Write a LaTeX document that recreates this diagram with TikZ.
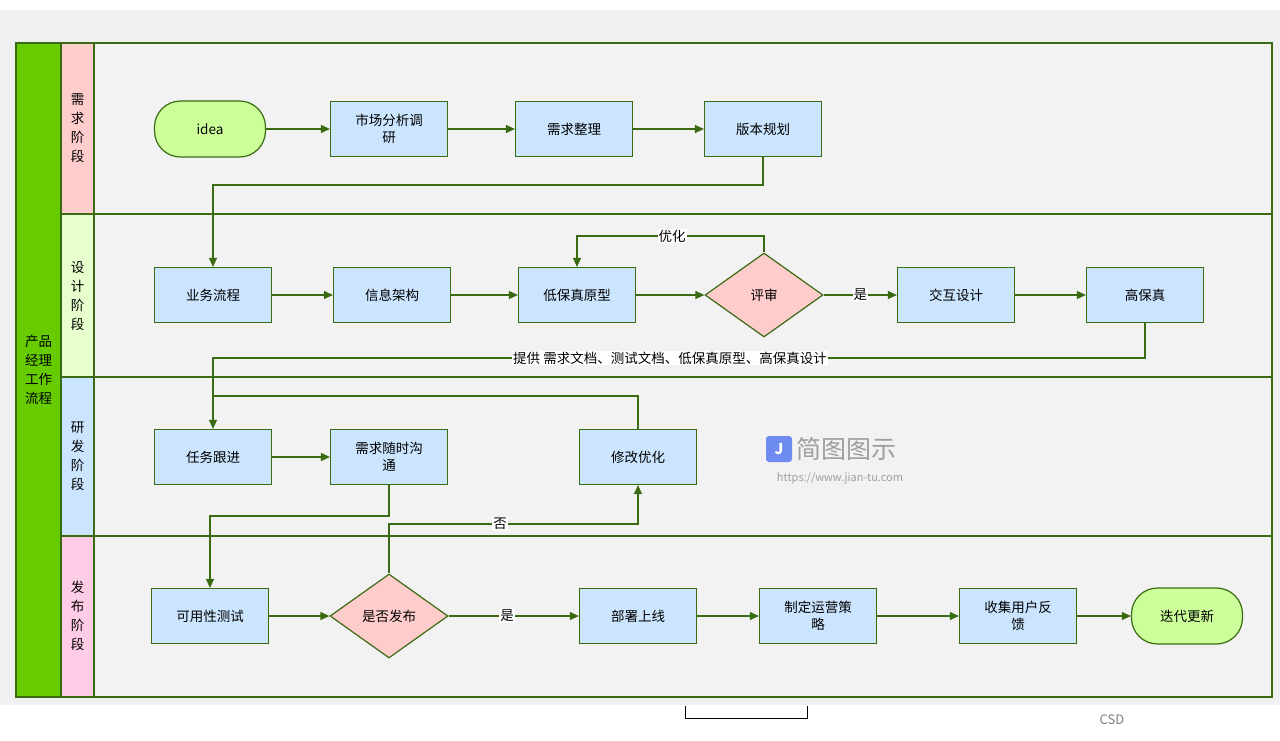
\documentclass[tikz,border=0pt]{standalone}
\usepackage{fontspec}
\setmainfont{Noto Sans CJK SC}
\XeTeXlinebreaklocale "zh"
\XeTeXlinebreakskip=0pt plus 1pt
\usetikzlibrary{shapes.geometric,arrows.meta}
\definecolor{ln}{HTML}{3A6B12}
\definecolor{bx}{HTML}{CCE5FF}
\definecolor{gr}{HTML}{CCFF99}
\definecolor{pk}{HTML}{FFCCCC}
\begin{document}
\begin{tikzpicture}[x=1pt,y=-1pt,font=\fontsize{13.5}{17}\selectfont,
 box/.style={draw=ln,line width=1.2pt,fill=bx,minimum width=117pt,minimum height=55pt,align=center,inner sep=1pt},
 term/.style={draw=ln,line width=1.2pt,fill=gr,rounded corners=26pt,minimum width=111pt,minimum height=56pt},
 dia/.style={draw=ln,line width=1.2pt,fill=pk,diamond,aspect=1.4,minimum width=118pt,minimum height=84pt,inner sep=0pt},
 ar/.style={draw=ln,line width=1.2pt,-{Triangle[length=9pt,width=8pt]}},
 lbl/.style={fill=white,inner sep=1pt},
 lane/.style={draw=ln,line width=1.2pt},
 vl/.style={align=center,font=\fontsize{13.5}{19}\selectfont}]
\useasboundingbox (0,0) rectangle (1280,740);
\fill[white] (0,0) rectangle (1280,740);
\fill[gray!12] (0,10) rectangle (1280,705);
\fill[white] (720,0) rectangle (1133,10);
% lanes
\fill[gray!10] (94,43) rectangle (1272,697);
\draw[lane,fill={rgb,255:red,102;green,204;blue,0}] (16,43) rectangle (61,697);
\node[vl] (t) at (38.5,370) {产品\\经理\\工作\\流程};
\draw[lane,fill=pk] (61,43) rectangle (94,214);
\draw[lane,fill={rgb,255:red,230;green,255;blue,204}] (61,214) rectangle (94,377);
\draw[lane,fill=bx] (61,377) rectangle (94,536);
\draw[lane,fill={rgb,255:red,255;green,204;blue,230}] (61,536) rectangle (94,697);
\draw[lane] (94,43) rectangle (1272,697);
\draw[lane] (94,214) -- (1272,214) (94,377) -- (1272,377) (94,536) -- (1272,536);
\node[vl] (l1) at (77.5,128) {需\\求\\阶\\段};
\node[vl] (l2) at (77.5,296) {设\\计\\阶\\段};
\node[vl] (l3) at (77.5,456) {研\\发\\阶\\段};
\node[vl] (l4) at (77.5,616) {发\\布\\阶\\段};
% watermark
\node[fill={rgb,255:red,110;green,140;blue,240},rounded corners=3pt,minimum size=26pt,text=white,font=\bfseries\fontsize{15}{15}\selectfont] (wl) at (779,449) {J};
\node[text=gray!75,font=\fontsize{25}{27}\selectfont,anchor=west] (wt) at (793,449) {简图图示};
\node[text=gray!75,font=\fontsize{11}{12}\selectfont] (wu) at (840,478) {https://www.jian-tu.com};
% nodes
\node[term] (idea) at (210,129) {idea};
\node[box] (a1) at (389,129) {市场分析调\\研};
\node[box] (a2) at (574,129) {需求整理};
\node[box] (a3) at (763,129) {版本规划};
\node[box] (b1) at (213,295) {业务流程};
\node[box] (b2) at (392,295) {信息架构};
\node[box] (b3) at (577,295) {低保真原型};
\node[dia] (b4) at (764,295) {评审};
\node[box] (b5) at (956,295) {交互设计};
\node[box] (b6) at (1145,295) {高保真};
\node[box] (c1) at (213,457) {任务跟进};
\node[box] (c2) at (389,457) {需求随时沟\\通};
\node[box] (c3) at (638,457) {修改优化};
\node[box] (d1) at (210,616) {可用性测试};
\node[dia] (d2) at (389,616) {是否发布};
\node[box] (d3) at (638,616) {部署上线};
\node[box] (d4) at (818,616) {制定运营策\\略};
\node[box] (d5) at (1018,616) {收集用户反\\馈};
\node[term] (d6) at (1187,616) {迭代更新};
% edges
\draw[ar] (idea) -- (a1); \draw[ar] (a1) -- (a2); \draw[ar] (a2) -- (a3);
\draw[ar] (a3.south) -- (763,185) -- (213,185) -- (b1.north);
\draw[ar] (b1) -- (b2); \draw[ar] (b2) -- (b3); \draw[ar] (b3) -- (b4);
\draw[ar] (b4.north) -- (764,236) -- (577,236) -- (b3.north);
\node[lbl] (o1) at (672,236) {优化};
\draw[ar] (b4) -- node[lbl]{是} (b5);
\draw[ar] (b5) -- (b6);
\draw[ar] (b6.south) -- (1145,358) -- (213,358) -- (c1.north);
\node[lbl] (o2) at (670,358) {提供 需求文档、测试文档、低保真原型、高保真设计};
\draw[line width=1.2pt,draw=ln] (c3.north) -- (638,396) -- (213,396);
\draw[ar] (c1) -- (c2);
\draw[ar] (c2.south) -- (389,516) -- (210,516) -- (d1.north);
\draw[ar] (d1) -- (d2);
\draw[ar] (d2.north) -- (389,524) -- (638,524) -- (c3.south);
\node[lbl] (o3) at (500,524) {否};
\draw[ar] (d2) -- node[lbl,pos=0.45]{是} (d3);
\draw[ar] (d3) -- (d4); \draw[ar] (d4) -- (d5); \draw[ar] (d5) -- (d6);
% artifacts
\draw[black,line width=1pt] (685,706) -- (685,718) -- (807,718) -- (807,706);
\node[text=gray,font=\fontsize{13}{13}\selectfont] (csd) at (1112,720) {CSD};
\end{tikzpicture}
\end{document}
